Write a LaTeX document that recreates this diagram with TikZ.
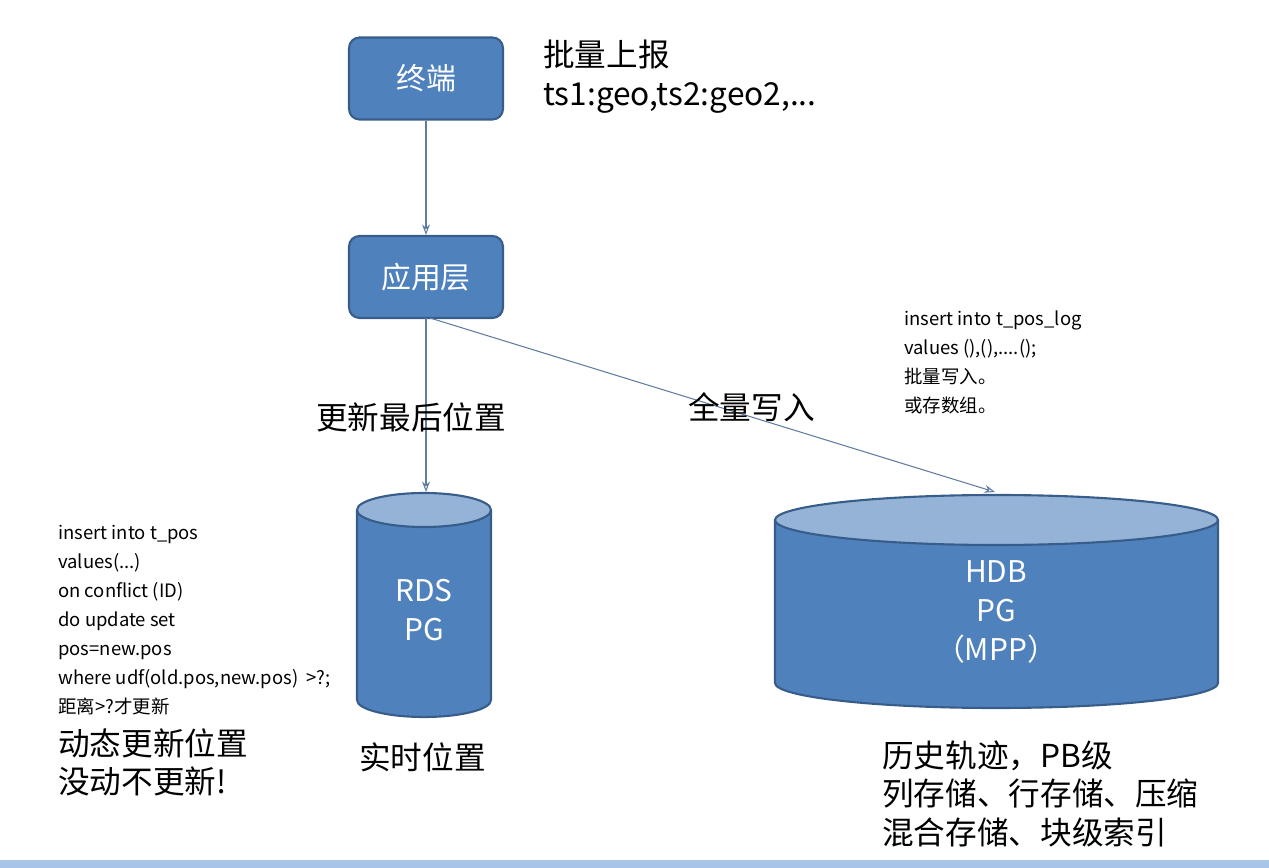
\documentclass[tikz,border=0pt]{standalone}
\usepackage{fontspec}
\setmainfont{Noto Sans CJK SC}
\usetikzlibrary{arrows.meta}
\definecolor{boxblue}{HTML}{4F81BD}
\definecolor{edgeblue}{HTML}{385D8A}
\definecolor{topblue}{HTML}{95B3D7}
\definecolor{band}{HTML}{A8C4E8}
\begin{document}
\begin{tikzpicture}[x=0.02cm,y=-0.02cm,
  box/.style={draw=edgeblue,line width=1.2pt,fill=boxblue,rounded corners=6pt,text=white,font=\fontsize{17}{20}\selectfont,minimum width=3.08cm,minimum height=1.64cm},
  conn/.style={draw=edgeblue!80,-{Stealth[length=6pt,open]},line width=0.6pt},
  small/.style={font=\fontsize{10.5}{16.5}\selectfont,align=left,anchor=north west,inner sep=0},
  big/.style={font=\fontsize{18}{22}\selectfont,align=left,anchor=north west,inner sep=0}]
\useasboundingbox (0,0) rectangle (1269,868);
\fill[band] (0,860) rectangle (1269,868);
\node[box] (term) at (426,78.5) {终端};
\node[box] (app) at (426,277) {应用层};
% RDS cylinder
\filldraw[fill=boxblue,draw=edgeblue,line width=1.2pt] (357,510) -- (357,700) arc[start angle=180,end angle=0,x radius=67,y radius=17] -- (491,510);
\filldraw[fill=topblue,draw=edgeblue,line width=1.2pt] (424,510) ellipse[x radius=67,y radius=17];
\coordinate (rdstop) at (426,492);
\node[text=white,font=\fontsize{17}{22}\selectfont,align=center] (rds) at (424,610) {RDS\\PG};
% HDB cylinder
\filldraw[fill=boxblue,draw=edgeblue,line width=1.2pt] (775,520) -- (775,683) arc[start angle=180,end angle=0,x radius=221.5,y radius=25] -- (1218,520);
\filldraw[fill=topblue,draw=edgeblue,line width=1.2pt] (996.5,520) ellipse[x radius=221.5,y radius=25];
\coordinate (hdbtop) at (995,492);
\node[text=white,font=\fontsize{17}{22}\selectfont,align=center] (hdb) at (996,612) {HDB\\PG\\（MPP）};
\coordinate (appa) at (426,318);
\coordinate (appb) at (430,318);
\draw[conn] (term) -- (app);
\draw[conn] (appa) -- (rdstop);
\draw[conn] (appb) -- (hdbtop);
\node[big] (t1) at (543,40) {批量上报\\ts1:geo,ts2:geo2,...};
\node[big] (t2) at (316,402) {更新最后位置};
\node[big] (t3) at (688,392) {全量写入};
\node[small] (t4) at (904,310) {insert into t\_pos\_log\\values (),(),....();\\批量写入。\\或存数组。};
\node[small] (t5) at (58,525) {insert into t\_pos\\values(...)\\on conflict (ID)\\do update set\\pos=new.pos\\where udf(old.pos,new.pos) \ >?;\\ 距离>?才更新};
\node[big] (t6) at (58,728) {动态更新位置\\没动不更新!};
\node[big] (t7) at (359,742) {实时位置};
\node[big] (t8) at (882,740) {历史轨迹，PB级\\列存储、行存储、压缩\\混合存储、块级索引};
\end{tikzpicture}
\end{document}
